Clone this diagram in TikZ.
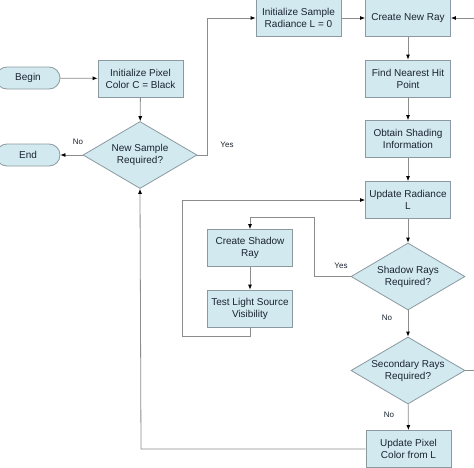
\documentclass[tikz,border=0pt]{standalone}
\usepackage{fontspec}
\setmainfont{Liberation Sans}
\usetikzlibrary{arrows.meta,shapes.geometric,shapes.misc}
\definecolor{boxfill}{HTML}{D3E9F0}
\definecolor{boxline}{HTML}{8A9AA0}
\definecolor{conn}{HTML}{8C8C8C}
\definecolor{txt}{HTML}{1A2430}
\begin{document}
\begin{tikzpicture}[x=1pt,y=-1pt,
  every node/.style={font=\fontsize{10}{12}\selectfont,text=txt},
  procbox/.style={draw=boxline,fill=boxfill,line width=0.8pt,minimum width=85pt,minimum height=37pt,inner sep=1pt,align=center},
  termbox/.style={draw=boxline,fill=boxfill,line width=0.8pt,rounded rectangle,minimum width=66pt,minimum height=22pt,inner sep=1pt},
  decbox/.style={draw=boxline,fill=boxfill,line width=0.8pt,diamond,shape aspect=1.7,minimum width=114pt,minimum height=67pt,inner sep=0pt,align=center},
  conline/.style={draw=conn,line width=0.8pt},
  arr/.style={conline,-{Latex[length=5pt,width=4pt,color=black]}},
  lbl/.style={font=\fontsize{8}{10}\selectfont}]
\useasboundingbox (0,0) rectangle (474,467);
\clip (0,0) rectangle (474,467);
% nodes
\node[termbox] (begin) at (28,78) {Begin};
\node[termbox] (end) at (28,155) {End};
\node[procbox] (initpix) at (140.5,78.5) {Initialize Pixel\\Color C = Black};
\node[decbox] (newsample) at (140,155) {New Sample\\Required?};
\node[procbox] (initsample) at (298.5,18) {Initialize Sample\\Radiance L = 0};
\node[procbox] (newray) at (408,18) {Create New Ray};
\node[procbox] (findhit) at (408,78.5) {Find Nearest Hit\\Point};
\node[procbox] (shading) at (408,139) {Obtain Shading\\Information};
\node[procbox] (updrad) at (408,200) {Update Radiance\\L};
\node[decbox] (shadowd) at (408,276.5) {Shadow Rays\\Required?};
\node[procbox] (createshadow) at (250,248) {Create Shadow\\Ray};
\node[procbox] (testlight) at (250,308.5) {Test Light Source\\Visibility};
\node[decbox] (secd) at (408,370.5) {Secondary Rays\\Required?};
\node[procbox] (updpix) at (408.5,449) {Update Pixel\\Color from L};
% helper coordinates
\coordinate (yesup) at (207,155);
\coordinate (shyes) at (314,276.5);
\coordinate (shtop) at (250,217);
\coordinate (tlbot) at (250,336);
\coordinate (loopl) at (182,200);
\coordinate (secr) at (485,370.5);
\coordinate (pixl) at (141,449);
% connectors
\draw[arr] (begin) -- (initpix);
\draw[arr] (initpix) -- (newsample);
\draw[arr] (newsample.west) -- (end.east);
\draw[arr] (newsample.east) -- (yesup) |- (initsample.west);
\draw[arr] (initsample) -- (newray);
\draw[arr] (newray) -- (findhit);
\draw[arr] (findhit) -- (shading);
\draw[arr] (shading) -- (updrad);
\draw[arr] (updrad) -- (shadowd);
\draw[arr] (shadowd.west) -- (shyes) |- (shtop) -- (createshadow.north);
\draw[arr] (createshadow) -- (testlight);
\draw[arr] (testlight.south) -- (tlbot) -| (loopl) -- (updrad.west);
\draw[arr] (shadowd) -- (secd);
\draw[arr] (secd) -- (updpix);
\draw[arr] (secd.east) -- (secr) |- (newray.east);
\draw[arr] (updpix.west) -- (pixl) -- (newsample.south);
% labels
\node[lbl] (lno1) at (78,142) {No};
\node[lbl] (lyes1) at (227,145) {Yes};
\node[lbl] (lyes2) at (341,266) {Yes};
\node[lbl] (lno2) at (387,318) {No};
\node[lbl] (lno3) at (389,415) {No};
\end{tikzpicture}
\end{document}
